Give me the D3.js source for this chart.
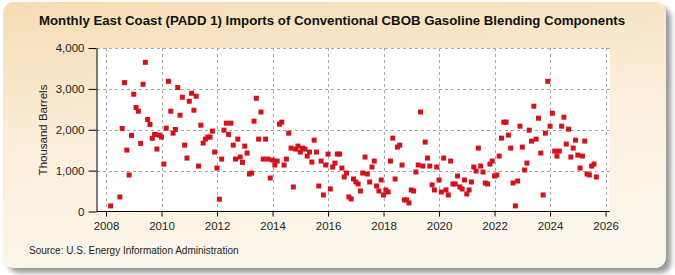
<!DOCTYPE html>
<html><head><meta charset="utf-8">
<script src="https://cdn.jsdelivr.net/npm/d3@7"></script>
<style>body{margin:0;background:#fff;}svg{display:block;font-family:"Liberation Sans",Arial,sans-serif;}</style>
</head><body>
<svg id="c" width="675" height="275"></svg>
<script>
const title = "Monthly East Coast (PADD 1) Imports of Conventional CBOB Gasoline Blending Components";
const yLabel = "Thousand Barrels";
const source = "Source: U.S. Energy Information Administration";
const xTicks = [2008, 2010, 2012, 2014, 2016, 2018, 2020, 2022, 2024, 2026];
const yTicks = [0, 1000, 2000, 3000, 4000];
// months as "YYYY-MM"
const months = [
"2008-03","2008-07","2008-08","2008-09","2008-10","2008-11","2008-12",
"2009-01","2009-02","2009-03","2009-04","2009-05","2009-06","2009-07","2009-08","2009-09","2009-10","2009-11","2009-12",
"2010-01","2010-02","2010-03","2010-04","2010-05","2010-06","2010-07","2010-08","2010-09","2010-10","2010-11","2010-12",
"2011-01","2011-02","2011-03","2011-04","2011-05","2011-06","2011-07","2011-08","2011-09","2011-10","2011-11","2011-12",
"2012-01","2012-02","2012-03","2012-04","2012-05","2012-06","2012-07","2012-08","2012-09","2012-10","2012-11","2012-12",
"2013-01","2013-02","2013-03","2013-04","2013-05","2013-06","2013-07","2013-08","2013-09","2013-10","2013-11","2013-12",
"2014-01","2014-02","2014-03","2014-04","2014-05","2014-06","2014-07","2014-08","2014-09","2014-10","2014-11","2014-12",
"2015-01","2015-02","2015-03","2015-04","2015-05","2015-06","2015-07","2015-08","2015-09","2015-10","2015-11","2015-12",
"2016-01","2016-02","2016-03","2016-04","2016-05","2016-06","2016-07","2016-08","2016-09","2016-10","2016-11","2016-12",
"2017-01","2017-02","2017-03","2017-04","2017-05","2017-06","2017-07","2017-08","2017-09","2017-10","2017-11","2017-12",
"2018-01","2018-02","2018-03","2018-04","2018-05","2018-06","2018-07","2018-08","2018-09","2018-10","2018-11","2018-12",
"2019-01","2019-02","2019-03","2019-04","2019-05","2019-06","2019-07","2019-08","2019-09","2019-10","2019-11","2019-12",
"2020-01","2020-02","2020-03","2020-04","2020-05","2020-06","2020-07","2020-08","2020-09","2020-10","2020-11","2020-12",
"2021-01","2021-02","2021-03","2021-04","2021-05","2021-06","2021-07","2021-08","2021-09","2021-10","2021-11","2021-12",
"2022-01","2022-02","2022-03","2022-04","2022-05","2022-06","2022-07","2022-08","2022-09","2022-10","2022-11","2022-12",
"2023-01","2023-02","2023-03","2023-04","2023-05","2023-06","2023-07","2023-08","2023-09","2023-10","2023-11","2023-12",
"2024-01","2024-02","2024-03","2024-04","2024-05","2024-06","2024-07","2024-08","2024-09","2024-10","2024-11","2024-12",
"2025-01","2025-02","2025-03","2025-04","2025-05","2025-06","2025-07","2025-08","2025-09"
];
const values = [
137,356,2031,3154,1503,893,1861,
2869,2544,2454,1666,3113,3649,2251,2129,1790,1885,1528,1869,
1820,1161,2039,3185,2454,1917,2007,3032,2356,2795,1624,1307,
2698,2893,2478,2820,1112,2112,1673,1771,1820,1820,1966,1454,
1063,300,1283,1990,2161,1885,2161,1624,1283,1771,1332,1202,
1600,1429,917,941,2210,2771,1771,2434,1283,1771,1283,820,
1259,1137,1234,2137,2186,1137,1283,1917,1551,600,1527,1600,
1454,1551,1527,1356,1454,1210,1746,1454,624,1234,405,1137,
1405,551,1088,1185,1405,1405,1063,844,941,356,307,795,
722,673,502,941,1332,917,722,1088,1234,624,502,771,
405,527,478,1234,1795,795,1576,1624,1137,283,283,210,
527,502,966,1137,2434,1112,1698,1307,1112,649,527,1088,
771,478,1307,527,405,1234,673,673,868,600,551,771,
429,527,722,1088,990,1551,1112,966,698,673,1161,1234,
868,893,1356,1795,2186,2186,1869,1551,698,137,746,2088,
1576,1015,1185,1990,1722,2576,1771,2283,1429,405,1917,3185,
2088,2405,1478,1356,1478,2088,2307,1649,2015,1332,1551,1746,
1380,1063,1356,1722,917,893,1112,1161,844
];

const svg = d3.select("#c");
const defs = svg.append("defs");
const g1 = defs.append("linearGradient").attr("id","bg").attr("x1",0).attr("y1",0).attr("x2",0.25).attr("y2",1);
g1.append("stop").attr("offset","0%").attr("stop-color","#f5dcb4");
g1.append("stop").attr("offset","55%").attr("stop-color","#fbefdc");
g1.append("stop").attr("offset","100%").attr("stop-color","#fdf6ec");
const f = defs.append("filter").attr("id","sh").attr("x","-5%").attr("y","-5%").attr("width","115%").attr("height","125%");
f.append("feGaussianBlur").attr("stdDeviation",2.5);

// shadow + panel
svg.append("rect").attr("x",8).attr("y",7).attr("width",663).attr("height",266).attr("rx",11).attr("fill","#9a9a9a").attr("filter","url(#sh)");
svg.append("rect").attr("x",3).attr("y",2).attr("width",663).attr("height",266).attr("rx",11).attr("fill","url(#bg)");

const x = d3.scaleLinear().domain([2007.675, 2026.16]).range([97, 610]);
const y = d3.scaleLinear().domain([0, 4000]).range([211.5, 48]);

// plot area
svg.append("rect").attr("x",97).attr("y",48).attr("width",513).attr("height",163.5).attr("fill","#fff");

// gridlines
svg.append("g").selectAll("line").data(yTicks.filter(d=>d>0)).join("line")
  .attr("x1",97).attr("x2",610).attr("y1",d=>Math.round(y(d))+0.5).attr("y2",d=>Math.round(y(d))+0.5)
  .attr("stroke","#a8a8a8").attr("stroke-dasharray","3,3");
svg.append("g").selectAll("line").data(xTicks).join("line")
  .attr("x1",d=>Math.round(x(d))+0.5).attr("x2",d=>Math.round(x(d))+0.5).attr("y1",48).attr("y2",211)
  .attr("stroke","#a8a8a8").attr("stroke-dasharray","3,3");

// axes
const xAxis = svg.append("g").attr("transform","translate(0,211.5)")
  .call(d3.axisBottom(x).tickValues(xTicks).tickFormat(d3.format("d")).tickSize(5).tickSizeOuter(0));
const yAxis = svg.append("g").attr("transform","translate(96.5,0)")
  .call(d3.axisLeft(y).tickValues(yTicks).tickFormat(d3.format(",")).tickSize(8).tickSizeOuter(0));
[xAxis, yAxis].forEach(a => {
  a.select(".domain").attr("stroke","#000");
  a.selectAll(".tick line").attr("stroke","#000");
  a.selectAll("text").attr("fill","#222").style("font-size","11.5px").style("font-family","'Liberation Sans',Arial,sans-serif");
});
xAxis.selectAll("text").attr("dy","0.95em");
yAxis.selectAll("text").attr("dx","-1");
xAxis.select(".domain").attr("d","M97,0H610");

// points
const data = months.map((m,i)=>{const [yy,mm]=m.split("-").map(Number);return {t: yy+(mm-1)/12, v: values[i]};});
svg.append("g").selectAll("rect").data(data).join("rect")
  .attr("x",d=>x(d.t)-2.5).attr("y",d=>y(d.v)-2.5).attr("width",5).attr("height",5)
  .attr("fill","#d4121c");

// texts
svg.append("text").attr("x",332).attr("y",25).attr("text-anchor","middle")
  .style("font-size","13px").style("font-weight","bold").attr("fill","#111")
  .attr("textLength",586).attr("lengthAdjust","spacingAndGlyphs").text(title);
svg.append("text").attr("transform","translate(47,130) rotate(-90)").attr("text-anchor","middle")
  .style("font-size","11.5px").attr("fill","#222").text(yLabel);
svg.append("text").attr("x",29).attr("y",254).style("font-size","10px").attr("fill","#222").text(source);
</script>
</body></html>
